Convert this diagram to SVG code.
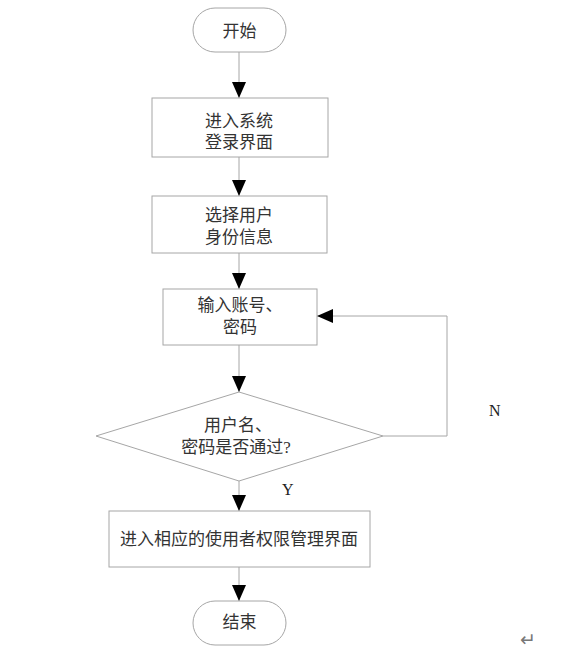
<svg xmlns="http://www.w3.org/2000/svg" width="573" height="656" viewBox="0 0 573 656">
<defs>
<style>
.s{fill:#fff;stroke:#a6a6a6;stroke-width:1}
.c{fill:none;stroke:#a6a6a6;stroke-width:1}
.t{font-family:"Liberation Serif","Noto Sans CJK SC",serif;font-size:17px;fill:#333;text-anchor:middle}
.l{font-family:"Liberation Serif",serif;font-size:16px;fill:#222}
</style>
<marker id="ah" viewBox="0 0 16 14" refX="16" refY="7" markerWidth="16" markerHeight="14" markerUnits="userSpaceOnUse" orient="auto">
<path d="M0,0 L16,7 L0,14 Z" fill="#000"/>
</marker>
</defs>
<rect width="573" height="656" fill="#fff"/>
<g id="connectors">
<line class="c" x1="239" y1="52" x2="239" y2="98" marker-end="url(#ah)"/>
<line class="c" x1="239" y1="157" x2="239" y2="196" marker-end="url(#ah)"/>
<line class="c" x1="239" y1="253" x2="239" y2="289" marker-end="url(#ah)"/>
<line class="c" x1="239" y1="345" x2="239" y2="392" marker-end="url(#ah)"/>
<line class="c" x1="239" y1="481" x2="239" y2="511" marker-end="url(#ah)"/>
<line class="c" x1="239" y1="567" x2="239" y2="601" marker-end="url(#ah)"/>
<polyline class="c" points="383,436 447,436 447,316 317,316" marker-end="url(#ah)"/>
<text class="l" x="489" y="416">N</text>
<text class="l" x="282" y="495">Y</text>
</g>
<g id="start">
<rect class="s" x="193" y="8" width="93" height="44" rx="22" ry="22"/>
<text class="t" x="239.5" y="37">开始</text>
</g>
<g id="login">
<rect class="s" x="152" y="98" width="176" height="59"/>
<text class="t" x="239" y="127">进入系统</text>
<text class="t" x="239" y="148">登录界面</text>
</g>
<g id="select">
<rect class="s" x="152" y="196" width="175" height="57"/>
<text class="t" x="239" y="221">选择用户</text>
<text class="t" x="239" y="243">身份信息</text>
</g>
<g id="input">
<rect class="s" x="163" y="289" width="154" height="56"/>
<text class="t" x="240" y="311">输入账号、</text>
<text class="t" x="240" y="333">密码</text>
</g>
<g id="check">
<polygon class="s" points="239,392 383,436 239,481 96,436"/>
<text class="t" x="238" y="431">用户名、</text>
<text class="t" x="236" y="453">密码是否通过?</text>
</g>
<g id="enter">
<rect class="s" x="109" y="511" width="261" height="56"/>
<text class="t" x="239" y="545">进入相应的使用者权限管理界面</text>
</g>
<g id="end">
<rect class="s" x="193" y="601" width="93" height="44" rx="22" ry="22"/>
<text class="t" x="239.5" y="628">结束</text>
</g>
<text x="528" y="646" font-family="DejaVu Sans,sans-serif" font-size="19" fill="#777" text-anchor="middle">↵</text>
</svg>
